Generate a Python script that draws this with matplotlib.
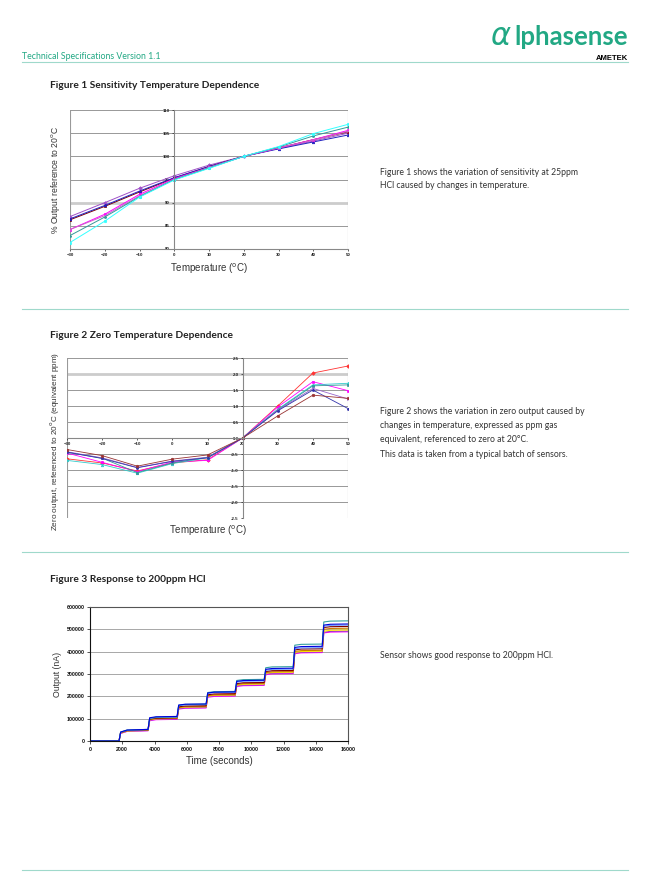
import matplotlib
matplotlib.use("Agg")
import matplotlib.pyplot as plt
from matplotlib.lines import Line2D

# -----------------------------------------
# Data
# -----------------------------------------
temps = [-30, -20, -10, 0, 10, 20, 30, 40, 50]

# Figure 1 : % output referenced to 20C
sens_purple = [87.0, 90.0, 93.1, 95.8, 98.1, 100, 101.7, 103.3, 105.0]
sens_darkred = [86.3, 89.2, 92.3, 95.3, 97.8, 100, 101.8, 103.6, 105.3]
sens_blue = [86.5, 89.4, 92.5, 95.4, 97.8, 100, 101.6, 103.1, 104.6]
sens_magenta = [84.2, 87.5, 91.8, 95.2, 97.6, 100, 101.8, 103.6, 105.6]
sens_violet = [84.2, 87.2, 91.5, 95.0, 97.6, 100, 101.8, 103.5, 105.4]
sens_teal = [82.9, 86.9, 91.3, 95.0, 97.5, 100, 102.0, 104.4, 106.3]
sens_cyan = [81.4, 86.0, 91.2, 94.9, 97.4, 100, 102.1, 104.9, 106.9]

# Figure 2 : zero output, ppm equivalent
zero_red = [-0.65, -0.78, -1.03, -0.78, -0.68, 0, 1.00, 2.03, 2.25]
zero_magenta = [-0.47, -0.76, -1.05, -0.75, -0.70, 0, 0.97, 1.76, 1.48]
zero_cyan = [-0.70, -0.83, -1.10, -0.80, -0.62, 0, 0.90, 1.66, 1.71]
zero_teal = [-0.45, -0.63, -1.08, -0.78, -0.60, 0, 0.88, 1.63, 1.66]
zero_purple = [-0.43, -0.62, -0.92, -0.72, -0.60, 0, 0.87, 1.55, 1.22]
zero_blue = [-0.44, -0.64, -0.93, -0.73, -0.62, 0, 0.85, 1.50, 0.92]
zero_brown = [-0.36, -0.55, -0.88, -0.66, -0.53, 0, 0.69, 1.34, 1.24]

# Figure 3 : step response, gas switched up every 1800 s
step_times = [1800, 3600, 5400, 7200, 9000, 10800, 12600, 14400]
t_stop = 16000
# how far below the plateau the trace sits just after each step
step_sag = [12000, 6000, 5000, 5000, 5000, 5000, 5000, 5000]
lvl_teal = [52000, 108000, 165000, 222000, 276000, 333000, 434000, 538000]
lvl_blue = [52000, 110000, 166000, 220000, 272000, 326000, 424000, 524000]
lvl_ltblue = [51000, 107000, 163000, 218000, 269000, 322000, 418000, 519000]
lvl_darkred = [50000, 104000, 158000, 212000, 262000, 316000, 413000, 513000]
lvl_orange = [49000, 102000, 155000, 208000, 258000, 311000, 406000, 505000]
lvl_yellow = [48000, 101000, 153000, 206000, 255000, 308000, 402000, 497000]
lvl_purple = [47000, 99000, 150000, 204000, 252000, 305000, 399000, 492000]
lvl_magenta = [46000, 97000, 148000, 201000, 249000, 302000, 396000, 489000]

GREEN = "#22a884"
LINE_GREEN = "#9fd9cb"
TEXT = "#333333"
BODY_FONT = ["Lato", "DejaVu Sans"]
CHART_FONT = ["Liberation Sans", "DejaVu Sans"]

fig = plt.figure(figsize=(6.5, 8.82), dpi=100)


def fy(py):
    # pixel row -> figure fraction
    return 1 - py / 882.0


def fx(px):
    return px / 650.0


def hline(py, x0=22, x1=628):
    fig.add_artist(Line2D([fx(x0), fx(x1)], [fy(py), fy(py)],
                          color=LINE_GREEN, lw=0.8))


# -----------------------------------------
# Page header
# -----------------------------------------
fig.text(fx(22), fy(59), "Technical Specifications Version 1.1", color=GREEN,
         fontsize=6.3, family=BODY_FONT, va="baseline")
fig.text(fx(628), fy(45), "lphasense", color=GREEN, fontsize=18.5,
         fontweight="bold", family=BODY_FONT, ha="right", va="baseline")
fig.text(fx(490), fy(45), r"$\alpha$", color=GREEN, fontsize=22,
         ha="left", va="baseline")
fig.text(fx(628), fy(60), "AMETEK", color="black", fontsize=5.5,
         fontweight="heavy", family=CHART_FONT, ha="right", va="baseline")
hline(62)
hline(309)
hline(552)
hline(870)

fig.text(fx(50), fy(88), "Figure 1 Sensitivity Temperature Dependence", fontsize=7.3,
         fontweight="bold", family=BODY_FONT, color="#222222")
fig.text(fx(50), fy(338), "Figure 2 Zero Temperature Dependence", fontsize=7.3,
         fontweight="bold", family=BODY_FONT, color="#222222")
fig.text(fx(50), fy(582), "Figure 3 Response to 200ppm HCl", fontsize=7.3,
         fontweight="bold", family=BODY_FONT, color="#222222")

# body text
body = dict(fontsize=6.2, family=BODY_FONT, color=TEXT, va="baseline")
fig.text(fx(380), fy(175), "Figure 1 shows the variation of sensitivity at 25ppm", **body)
fig.text(fx(380), fy(188), "HCl caused by changes in temperature.", **body)
fig.text(fx(380), fy(414), "Figure 2 shows the variation in zero output caused by", **body)
fig.text(fx(380), fy(428), "changes in temperature, expressed as ppm gas", **body)
fig.text(fx(380), fy(442), "equivalent, referenced to zero at 20\u00b0C.", **body)
fig.text(fx(380), fy(457), "This data is taken from a typical batch of sensors.", **body)
fig.text(fx(380), fy(658), "Sensor shows good response to 200ppm HCl.", **body)

markers = ["D", "s", "^", "s", "x", "*", "o"]

# -----------------------------------------
# Figure 1
# -----------------------------------------
ax1 = fig.add_axes([fx(70), fy(249), fx(348) - fx(70), fy(110) - fy(249)])
sens = [sens_purple, sens_darkred, sens_blue, sens_magenta, sens_violet, sens_teal, sens_cyan]
sens_cols = ["#a050c8", "#800000", "#2020c0", "#ff00ff", "#cc66cc", "#339999", "#33ffff"]
for vals, col, mk in zip(sens, sens_cols, markers):
    ax1.plot(temps, vals, color=col, lw=0.7, marker=mk, ms=1.8, mew=0.5)
ax1.set_xlim(-30, 50)
ax1.set_ylim(80, 110)
ax1.set_xticks(temps)
ax1.set_yticks([80, 85, 90, 95, 100, 105, 110])
for v in [85, 95, 100, 105, 110]:
    ax1.axhline(v, color="#888888", lw=0.6, zorder=0)
ax1.axhline(90, color="#cccccc", lw=2.0, zorder=0)
ax1.axvline(-30, color="#999999", lw=0.8, zorder=0)
ax1.axvline(50, color="#999999", lw=0.8, zorder=0)
for s in ["top", "right"]:
    ax1.spines[s].set_visible(False)
ax1.spines["left"].set_position(("data", 0))
ax1.spines["left"].set_color("#888888")
ax1.spines["bottom"].set_color("#888888")
ax1.tick_params(labelsize=3.2, length=1.5, width=0.5, pad=1.5, colors="#222222")
for lab in ax1.get_xticklabels() + ax1.get_yticklabels():
    lab.set_fontweight("bold")
    lab.set_family(CHART_FONT)
ax1.set_xlabel("Temperature ($^\\mathrm{o}$C)", fontsize=7, family=CHART_FONT,
               color="#333333", labelpad=3)
fig.text(fx(55), fy(180), "% Output reference to 20$^\\mathrm{o}$C", rotation=90,
         fontsize=6.2, family=CHART_FONT, color="#333333", ha="center", va="center")

# -----------------------------------------
# Figure 2
# -----------------------------------------
ax2 = fig.add_axes([fx(67), fy(518), fx(348) - fx(67), fy(358) - fy(518)])
zero = [zero_red, zero_magenta, zero_cyan, zero_teal, zero_purple, zero_blue, zero_brown]
zero_cols = ["#ff3333", "#ff00ff", "#33cccc", "#339999", "#9966cc", "#3333aa", "#993333"]
for vals, col, mk in zip(zero, zero_cols, markers):
    ax2.plot(temps, vals, color=col, lw=0.6, marker=mk, ms=1.8, mew=0.5)
ax2.set_xlim(-30, 50)
ax2.set_ylim(-2.5, 2.5)
ax2.set_xticks(temps)
yt = [-2.5, -2.0, -1.5, -1.0, -0.5, 0.0, 0.5, 1.0, 1.5, 2.0, 2.5]
ax2.set_yticks(yt)
ax2.set_yticklabels(["%.1f" % v for v in yt])
for v in yt:
    if v != 2.0:
        ax2.axhline(v, color="#888888", lw=0.6, zorder=0)
ax2.axhline(2.0, color="#cccccc", lw=2.0, zorder=0)
ax2.axvline(-30, color="#999999", lw=0.8, zorder=0)
ax2.axvline(50, color="#999999", lw=0.8, zorder=0)
for s in ["top", "right"]:
    ax2.spines[s].set_visible(False)
ax2.spines["left"].set_position(("data", 20))
ax2.spines["bottom"].set_position(("data", 0))
ax2.spines["left"].set_color("#888888")
ax2.spines["bottom"].set_color("#888888")
ax2.tick_params(labelsize=3.2, length=1.5, width=0.5, pad=1.5, colors="#222222")
for lab in ax2.get_xticklabels() + ax2.get_yticklabels():
    lab.set_fontweight("bold")
    lab.set_family(CHART_FONT)
fig.text(fx(208), fy(531), "Temperature ($^\\mathrm{o}$C)", fontsize=7, family=CHART_FONT,
         color="#333333", ha="center", va="center")
fig.text(fx(55), fy(441), "Zero output, referenced to 20$^\\mathrm{o}$C (equivalent ppm)",
         rotation=90, fontsize=5.9, family=CHART_FONT, color="#333333",
         ha="center", va="center")

# -----------------------------------------
# Figure 3
# -----------------------------------------
ax3 = fig.add_axes([fx(90), fy(741), fx(348) - fx(90), fy(607) - fy(741)])
levels = [lvl_magenta, lvl_purple, lvl_yellow, lvl_orange, lvl_darkred,
          lvl_ltblue, lvl_teal, lvl_blue]
lvl_cols = ["#ff00ff", "#9933cc", "#ffee00", "#cc7a00", "#800000",
            "#6699ff", "#33a0a0", "#0000dd"]
for lvl, col in zip(levels, lvl_cols):
    xs = [0, step_times[0]]
    ys = [0, 0]
    for k, t in enumerate(step_times):
        t_end = step_times[k + 1] if k + 1 < len(step_times) else t_stop
        xs += [t + 100, t + 500, t_end]
        ys += [lvl[k] - step_sag[k], lvl[k] - step_sag[k] / 4, lvl[k]]
    ax3.plot(xs, ys, color=col, lw=0.8)
ax3.set_xlim(0, 16000)
ax3.set_ylim(0, 600000)
ax3.set_xticks(range(0, 16001, 2000))
ax3.set_yticks(range(0, 600001, 100000))
ax3.yaxis.grid(True, color="#999999", lw=0.6)
ax3.set_axisbelow(True)
for s in ["left", "bottom"]:
    ax3.spines[s].set_color("#111111")
for s in ["top", "right"]:
    ax3.spines[s].set_color("#555555")
ax3.tick_params(labelsize=3.8, length=2, width=0.5, pad=2, colors="#111111")
for lab in ax3.get_xticklabels() + ax3.get_yticklabels():
    lab.set_fontweight("bold")
    lab.set_family(CHART_FONT)
ax3.set_xlabel("Time (seconds)", fontsize=7, family=CHART_FONT, color="#333333", labelpad=3)
fig.text(fx(57), fy(674), "Output (nA)", rotation=90, fontsize=6.3, family=CHART_FONT,
         color="#333333", ha="center", va="center")

fig.savefig("out.png", dpi=100)
